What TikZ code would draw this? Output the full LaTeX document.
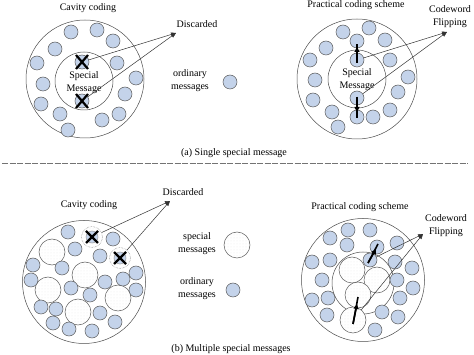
\documentclass[tikz,border=0pt]{standalone}
\usepackage{fontspec}
\setmainfont{Liberation Serif}
\usetikzlibrary{arrows.meta,patterns}
\definecolor{ordblue}{RGB}{196,211,234}
\begin{document}
\begin{tikzpicture}[x=1pt,y=-1pt,
  ord/.style={circle,draw=black!65,fill=ordblue,minimum size=14pt,inner sep=0pt,line width=0.5pt},
  spc/.style={circle,draw=black!65,preaction={fill=white},pattern=dots,pattern color=black!7,minimum size=26pt,inner sep=0pt,line width=0.5pt},
  xsp/.style={circle,draw=black!50,densely dotted,preaction={fill=white},pattern=dots,pattern color=black!7,minimum size=21pt,inner sep=0pt,line width=0.5pt},
  ring/.style={circle,draw=black!70,inner sep=0pt,line width=0.5pt},
  lbl/.style={font=\fontsize{10}{12}\selectfont,align=center,inner sep=0pt},
  xline/.style={line width=2.2pt,black},
  ptr/.style={black!80,line width=0.5pt,-{Triangle[length=5pt,width=4pt]}},
  flip/.style={line width=1.6pt,black},
  fliptip/.style={line width=1.6pt,black,-{Triangle[length=5pt,width=5pt]}}]
\useasboundingbox (0,0) rectangle (474,355);

% ===== (a) left: cavity coding
\node[lbl] (tcav) at (88,8) {Cavity coding};
\node[ring,minimum size=118pt] (tlout) at (85,79) {};
\node[ring,minimum size=58pt] (tlin) at (84,81) {};
\foreach \a/\b [count=\i] in {71/32,97/30,113/41,55/49,37/63,117/63,136/78,43/84,125/94,41/104,119/114,60/114,102/120,68/130}
  \node[ord] (tlo\i) at (\a,\b) {};
\node[ord] (tls1) at (82,62) {};
\node[ord] (tls2) at (82,101) {};
\node[lbl] (tlsp) at (84,76) {Special};
\node[lbl] (tlms) at (84,89) {Message};
\draw[xline] ([shift={(-6,-7)}]tls1.center) -- ([shift={(6,7)}]tls1.center);
\draw[xline] ([shift={(-6,7)}]tls1.center) -- ([shift={(6,-7)}]tls1.center);
\draw[xline] ([shift={(-6,-7)}]tls2.center) -- ([shift={(6,7)}]tls2.center);
\draw[xline] ([shift={(-6,7)}]tls2.center) -- ([shift={(6,-7)}]tls2.center);
\node[lbl] (tdisc) at (197,24) {Discarded};
\coordinate (tdtip) at (176,33);
\draw[ptr] (tls1) -- (tdtip);
\draw[ptr] (tls2) -- (tdtip);
\node[lbl] (tordl) at (190,81) {ordinary\\[1pt]messages};
\node[ord] (tordc) at (230,82) {};

% ===== (a) right: practical coding
\node[lbl] (tpra) at (356,5) {Practical coding scheme};
\node[ring,minimum size=120pt] (trout) at (357,79) {};
\node[ring,minimum size=58pt] (trin) at (357,79) {};
\foreach \a/\b [count=\i] in {343/32,369/28,357/41,385/40,326/48,310/60,390/60,408/77,315/80,398/92,313/100,390/110,332/112,357/117,373/117,338/127}
  \node[ord] (tro\i) at (\a,\b) {};
\node[ord] (trs1) at (357,60) {};
\node[ord] (trs2) at (357,98) {};
\node[lbl] (trsp) at (357,73) {Special};
\node[lbl] (trms) at (357,86) {Message};
\coordinate (trf1a) at (357,63);
\coordinate (trf1b) at (357,44);
\coordinate (trf1c) at (357,47);
\draw[flip] (trf1a) -- (trf1b);
\draw[fliptip] (trf1a) -- (trf1c);
\coordinate (trf2a) at (357,97);
\coordinate (trf2b) at (357,118);
\coordinate (trf2c) at (357,112);
\draw[flip] (trf2a) -- (trf2b);
\draw[fliptip] (trf2a) -- (trf2c);
\node[lbl] (tcw) at (450,17) {Codeword\\[1pt]Flipping};
\coordinate (tctip) at (447,32);
\draw[ptr] (trs1) -- (tctip);
\draw[ptr] (trs2) -- (tctip);

\node[lbl] (capa) at (234,153) {(a) Single special message};
\coordinate (dl) at (2,163);
\coordinate (dr) at (468,163);
\draw[black!55,line width=0.6pt,dash pattern=on 6pt off 1.5pt] (dl) -- (dr);

% ===== (b) left
\node[lbl] (bcav) at (89,205) {Cavity coding};
\node[ring,minimum size=123pt] (blout) at (84,282) {};
\foreach \a/\b [count=\i] in {52/252,85/275,48/290,78/312,118/298}
  \node[spc] (bls\i) at (\a,\b) {};
\node[xsp] (blx1) at (92,237) {};
\node[xsp] (blx2) at (120,258) {};
\node[ord,minimum size=12pt,draw=black!40] (blxi1) at (92,237) {};
\node[ord,minimum size=12pt,draw=black!40] (blxi2) at (120,258) {};
\foreach \a/\b [count=\i] in {68/232,113/239,75/249,100/256,33/265,62/268,136/273,31/280,105/282,123/279,136/290,71/288,90/295,41/307,56/309,100/313,115/322,53/323,69/329,92/331}
  \node[ord] (blo\i) at (\a,\b) {};
\draw[xline] ([shift={(-6,-6)}]blx1.center) -- ([shift={(6,6)}]blx1.center);
\draw[xline] ([shift={(-6,6)}]blx1.center) -- ([shift={(6,-6)}]blx1.center);
\draw[xline] ([shift={(-6,-6)}]blx2.center) -- ([shift={(6,6)}]blx2.center);
\draw[xline] ([shift={(-6,6)}]blx2.center) -- ([shift={(6,-6)}]blx2.center);
\node[lbl] (bdisc) at (183,192) {Discarded};
\coordinate (bdtip) at (170,201);
\draw[ptr] (blx1) -- (bdtip);
\draw[ptr] (blx2) -- (bdtip);
\node[lbl] (bspl) at (197,244) {special\\[1pt]messages};
\node[spc] (bspc) at (237,245) {};
\node[lbl] (bordl) at (197,289) {ordinary\\[1pt]messages};
\node[ord] (bordc) at (233,290) {};

% ===== (b) right
\node[lbl] (bpra) at (360,207) {Practical coding scheme};
\node[ring,minimum size=123pt] (brout) at (363,280) {};
\node[ring,minimum size=62pt] (brin) at (363,283) {};
\foreach \a/\b [count=\i] in {352/270,377/280,358/295,353/320}
  \node[spc] (brs\i) at (\a,\b) {};
\foreach \a/\b [count=\i] in {348/230,370/230,330/238,347/245,397/243,312/262,330/260,395/262,412/268,322/280,397/280,413/288,312/300,328/298,400/298,327/315,382/312,398/317,375/330,377/247}
  \node[ord] (bro\i) at (\a,\b) {};
\node[ord] (brf) at (370,260) {};
\coordinate (brf1a) at (368,263);
\coordinate (brf1b) at (378,244);
\coordinate (brf1c) at (376,249);
\draw[flip] (brf1a) -- (brf1b);
\draw[fliptip] (brf1a) -- (brf1c);
\coordinate (brf2a) at (353,324);
\coordinate (brf2b) at (358,297);
\coordinate (brf2c) at (357,304);
\draw[flip] (brf2a) -- (brf2b);
\draw[fliptip] (brf2a) -- (brf2c);
\node[lbl] (bcw) at (446,226) {Codeword\\[1pt]Flipping};
\coordinate (bctip) at (423,234);
\draw[ptr] (brf) -- (bctip);
\draw[ptr] (brs4) -- (bctip);

\node[lbl] (capb) at (231,349) {(b) Multiple special messages};
\end{tikzpicture}
\end{document}
